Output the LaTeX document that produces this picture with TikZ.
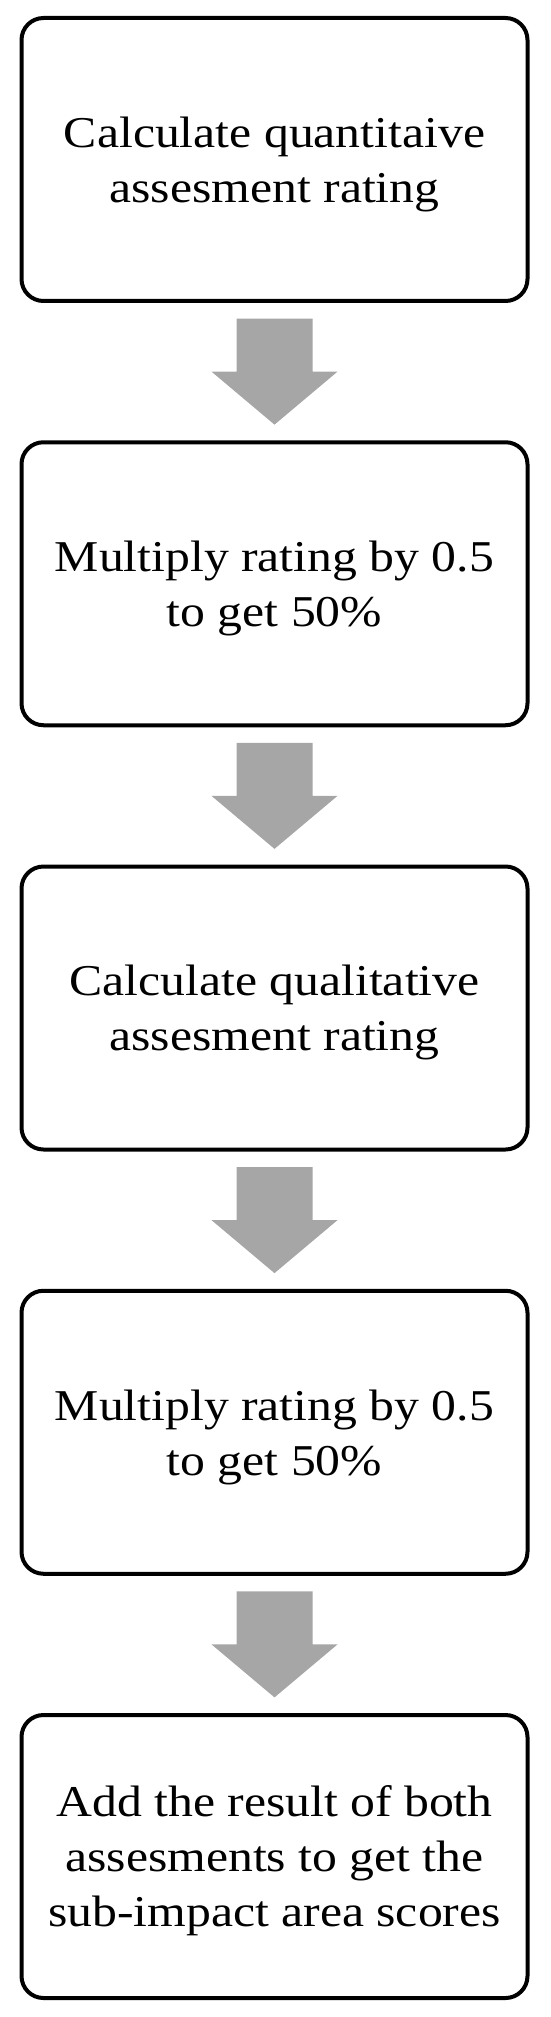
\documentclass[tikz,border=0pt]{standalone}
\usepackage{fontspec}
\setmainfont{Liberation Serif}[FakeStretch=1.13]
\usetikzlibrary{calc}
\definecolor{arrowgray}{HTML}{A6A6A6}
\newcommand{\firststrut}{\rule{0pt}{40pt}}
\tikzset{
  stepbox/.style={draw=black, line width=4pt, rounded corners=22pt,
    minimum width=506pt, minimum height=283pt, align=center, inner sep=0pt,
    font=\fontsize{44}{55}\selectfont},
  blockarrow/.style={fill=arrowgray, draw=none}
}
\newcommand{\downblock}[2]{%
  \coordinate (m#1#2) at ($(#1.south)!0.5!(#2.north)$);
  \fill[blockarrow] ($(m#1#2)+(-38pt,53pt)$) -- ($(m#1#2)+(38pt,53pt)$)
    -- ($(m#1#2)+(38pt,0pt)$) -- ($(m#1#2)+(63pt,0pt)$)
    -- ($(m#1#2)+(0pt,-53pt)$) -- ($(m#1#2)+(-63pt,0pt)$)
    -- ($(m#1#2)+(-38pt,0pt)$) -- cycle;}
\begin{document}
\begin{tikzpicture}[x=1pt,y=1pt]
\useasboundingbox (0,0) rectangle (550,-2017);
\node[stepbox] (b1) at (274.5,-159.5) {\firststrut Calculate quantitaive\\assesment rating};
\node[stepbox] (b2) at (274.5,-583.75) {\firststrut Multiply rating by 0.5\\to get 50\%};
\node[stepbox] (b3) at (274.5,-1008) {\firststrut Calculate qualitative\\assesment rating};
\node[stepbox] (b4) at (274.5,-1432.25) {\firststrut Multiply rating by 0.5\\to get 50\%};
\node[stepbox] (b5) at (274.5,-1856.5) {\firststrut Add the result of both\\assesments to get the\\sub-impact area scores};
\downblock{b1}{b2}
\downblock{b2}{b3}
\downblock{b3}{b4}
\downblock{b4}{b5}
\end{tikzpicture}
\end{document}
